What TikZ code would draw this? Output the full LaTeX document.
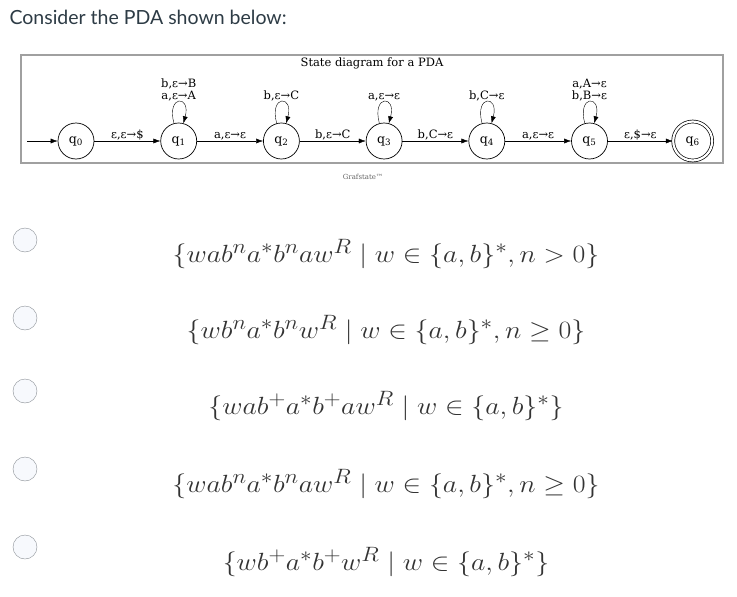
\documentclass[tikz,border=0pt]{standalone}
\usepackage{fontspec}
\usepackage{amssymb}
\setmainfont{DejaVu Serif}
\newfontfamily\headfont{Lato}
\usetikzlibrary{arrows.meta,positioning}
\definecolor{canvastext}{HTML}{2D3B45}
\definecolor{radioedge}{HTML}{8A8F95}
\definecolor{radiofill}{HTML}{F7F9FD}
\definecolor{framegray}{HTML}{A0A0A0}
\newcommand{\optexpr}[1]{\scalebox{1.12}[1]{$#1$}}
\begin{document}
\begin{tikzpicture}[x=1pt,y=-1pt,>={Latex[length=7pt,width=5pt]},
    every loop/.style={min distance=18pt,looseness=8}]
  \tikzstyle{state}=[draw, circle, minimum size=36pt, inner sep=0pt, line width=0.7pt, font=\fontsize{12.5}{13}\selectfont]
  \tikzstyle{lbl}=[font=\fontsize{11.5}{11.5}\selectfont, inner sep=1pt, align=center]
  \tikzstyle{radio}=[draw=radioedge, fill=radiofill, circle, minimum size=24pt, inner sep=0pt]
  \tikzstyle{choice}=[font=\fontsize{28.5}{32}\selectfont, text=black!80]
  \useasboundingbox (0,0) rectangle (737,597);

  \node[anchor=west, font=\headfont\fontsize{19.5}{22}\selectfont, text=canvastext] (head) at (6,17) {Consider the PDA shown below:};

  % frame of the diagram
  \draw[framegray, line width=1.6pt] (21,55) rectangle (723,163);
  \node[lbl] (title) at (372,63) {State diagram for a PDA};
  \node[font=\fontsize{7}{8}\selectfont, text=black!60] (credit) at (363,177) {Grafstate™};

  % states
  \node[state] (q0) at (76,141) {q\textsubscript{0}};
  \node[state, right=66pt of q0] (q1) {q\textsubscript{1}};
  \node[state, right=66pt of q1] (q2) {q\textsubscript{2}};
  \node[state, right=66pt of q2] (q3) {q\textsubscript{3}};
  \node[state, right=66pt of q3] (q4) {q\textsubscript{4}};
  \node[state, right=66pt of q4] (q5) {q\textsubscript{5}};
  \node[state, right=65pt of q5, minimum size=39pt, double, double distance=2.2pt] (q6) {q\textsubscript{6}};
  \coordinate (start) at (27,141);

  % transitions
  \draw[->] (start) -- (q0);
  \draw[->] (q0) -- node[lbl,above] {ε,ε→\$} (q1);
  \draw[->] (q1) -- node[lbl,above] {a,ε→ε} (q2);
  \draw[->] (q2) -- node[lbl,above] {b,ε→C} (q3);
  \draw[->] (q3) -- node[lbl,above] {b,C→ε} (q4);
  \draw[->] (q4) -- node[lbl,above] {a,ε→ε} (q5);
  \draw[->] (q5) -- node[lbl,above] {ε,\$→ε} (q6);

  \path[->] (q1) edge[loop above] node[lbl,above] {b,ε→B\\a,ε→A} ();
  \path[->] (q2) edge[loop above] node[lbl,above] {b,ε→C} ();
  \path[->] (q3) edge[loop above] node[lbl,above] {a,ε→ε} ();
  \path[->] (q4) edge[loop above] node[lbl,above] {b,C→ε} ();
  \path[->] (q5) edge[loop above] node[lbl,above] {a,A→ε\\b,B→ε} ();

  % answer choices
  \node[radio] (r1) at (25,240) {};
  \node[radio] (r2) at (25,318) {};
  \node[radio] (r3) at (25,391) {};
  \node[radio] (r4) at (25,469) {};
  \node[radio] (r5) at (25,547) {};
  \node[choice] (c1) at (386,254) {\optexpr{\{wab^n a^* b^n aw^R \mid w \in \{a,b\}^*, n > 0\}}};
  \node[choice] (c2) at (386,330) {\optexpr{\{wb^n a^* b^n w^R \mid w \in \{a,b\}^*, n \geq 0\}}};
  \node[choice] (c3) at (386,406) {\optexpr{\{wab^+ a^* b^+ aw^R \mid w \in \{a,b\}^*\}}};
  \node[choice] (c4) at (386,484) {\optexpr{\{wab^n a^* b^n aw^R \mid w \in \{a,b\}^*, n \geq 0\}}};
  \node[choice] (c5) at (386,562) {\optexpr{\{wb^+ a^* b^+ w^R \mid w \in \{a,b\}^*\}}};
\end{tikzpicture}
\end{document}
